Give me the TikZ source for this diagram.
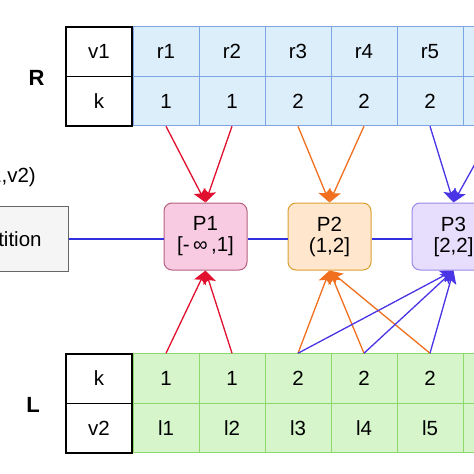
\documentclass[tikz,border=0pt]{standalone}
\usepackage{fontspec}
\setmainfont{Liberation Sans}
\usetikzlibrary{arrows.meta}
\definecolor{rfill}{HTML}{DDEEFB}
\definecolor{rdraw}{HTML}{7DA4E4}
\definecolor{lfill}{HTML}{D6F5CB}
\definecolor{ldraw}{HTML}{8CD86A}
\definecolor{pafill}{HTML}{F8CBE2}
\definecolor{padraw}{HTML}{B5607F}
\definecolor{pbfill}{HTML}{FFE6CC}
\definecolor{pbdraw}{HTML}{D9A030}
\definecolor{pcfill}{HTML}{E6DEFC}
\definecolor{pcdraw}{HTML}{9C88E8}
\definecolor{redl}{HTML}{E0102E}
\definecolor{orgl}{HTML}{F07020}
\definecolor{bluel}{HTML}{4A35E6}
\definecolor{hblue}{HTML}{3030E0}
\tikzset{
  cellbase/.style={rectangle, minimum width=66pt, minimum height=49.5pt, inner sep=0pt, font=\fontsize{20.5}{23}\selectfont},
  hcell/.style={cellbase, draw=black, line width=1.5pt, fill=white},
  rcell/.style={cellbase, draw=rdraw, line width=1pt, fill=rfill},
  lcell/.style={cellbase, draw=ldraw, line width=1pt, fill=lfill},
  pbox/.style={rectangle, rounded corners=8pt, minimum width=83pt, minimum height=67pt, line width=1pt, align=center, inner sep=0pt, font=\fontsize{20.5}{23}\selectfont},
  arr/.style={line width=1.3pt, -{Stealth[length=13pt,width=13pt,inset=3pt]}},
  redarr/.style={arr, draw=redl, fill=redl},
  orgarr/.style={arr, draw=orgl, fill=orgl},
  bluearr/.style={arr, draw=bluel, fill=bluel},
  hline/.style={draw=hblue, line width=2pt},
  big/.style={font=\fontsize{22}{26}\selectfont\bfseries},
  txt/.style={font=\fontsize{20.5}{23}\selectfont, inner sep=0pt}
}
\begin{document}
\begin{tikzpicture}[x=1pt,y=-1pt]
\useasboundingbox (0,0) rectangle (474,474);
\clip (0,0) rectangle (474,474);
% R table
\node[hcell] (rh1) at (99,51.5) {v1};
\node[hcell] (rh2) at (99,101) {k};
\node[rcell] (r1) at (166,51.5) {r1};
\node[rcell] (r2) at (232,51.5) {r2};
\node[rcell] (r3) at (298,51.5) {r3};
\node[rcell] (r4) at (364,51.5) {r4};
\node[rcell] (r5) at (430,51.5) {r5};
\node[rcell] (r6) at (496,51.5) {};
\node[rcell] (rk1) at (166,101) {1};
\node[rcell] (rk2) at (232,101) {1};
\node[rcell] (rk3) at (298,101) {2};
\node[rcell] (rk4) at (364,101) {2};
\node[rcell] (rk5) at (430,101) {2};
\node[rcell] (rk6) at (496,101) {};
\node[big] (R) at (36.5,77.5) {R};
% L table
\node[hcell] (lh1) at (99,378.5) {k};
\node[hcell] (lh2) at (99,428) {v2};
\node[lcell] (lk1) at (166,378.5) {1};
\node[lcell] (lk2) at (232,378.5) {1};
\node[lcell] (lk3) at (298,378.5) {2};
\node[lcell] (lk4) at (364,378.5) {2};
\node[lcell] (lk5) at (430,378.5) {2};
\node[lcell] (lk6) at (496,378.5) {};
\node[lcell] (l1) at (166,428) {l1};
\node[lcell] (l2) at (232,428) {l2};
\node[lcell] (l3) at (298,428) {l3};
\node[lcell] (l4) at (364,428) {l4};
\node[lcell] (l5) at (430,428) {l5};
\node[lcell] (l6) at (496,428) {};
\node[big] (L) at (33,405) {L};
% middle
\node[txt, anchor=east] (lbl) at (36,177) {(v1,v2)};
\node[rectangle, draw=black!60, fill=black!4, line width=1pt, minimum width=128pt, minimum height=65pt, font=\fontsize{20.5}{23}\selectfont, inner sep=0pt] (part) at (4,239) {Partition};
\node[pbox, draw=padraw, fill=pafill] (P1) at (205.5,236.5) {P1\\[-2pt][-\,∞\,,1]};
\node[pbox, draw=pbdraw, fill=pbfill] (P2) at (329.5,236.5) {P2\\[-2pt](1,2]};
\node[pbox, draw=pcdraw, fill=pcfill] (P3) at (453.5,236.5) {P3\\[-2pt][2,2]};
\draw[hline] (part.east) -- (part.east -| P1.west);
\draw[hline] (P1.east |- part.east) -- (part.east -| P2.west);
\draw[hline] (P2.east |- part.east) -- (part.east -| P3.west);
% arrows from R
\draw[redarr] (rk1.south) -- (P1.north);
\draw[redarr] (rk2.south) -- (P1.north);
\draw[orgarr] (rk3.south) -- (P2.north);
\draw[orgarr] (rk4.south) -- (P2.north);
\draw[bluearr] (rk5.south) -- (P3.north);
\draw[bluearr] (rk6.south) -- (P3.north);
% arrows from L
\draw[redarr] (lk1.north) -- (P1.south);
\draw[redarr] (lk2.north) -- (P1.south);
\draw[orgarr] (lk3.north) -- (P2.south);
\draw[orgarr] (lk4.north) -- (P2.south);
\draw[orgarr] (lk5.north) -- (P2.south);
\draw[bluearr] (lk3.north) -- (P3.south);
\draw[bluearr] (lk4.north) -- (P3.south);
\draw[bluearr] (lk5.north) -- (P3.south);
\end{tikzpicture}
\end{document}
